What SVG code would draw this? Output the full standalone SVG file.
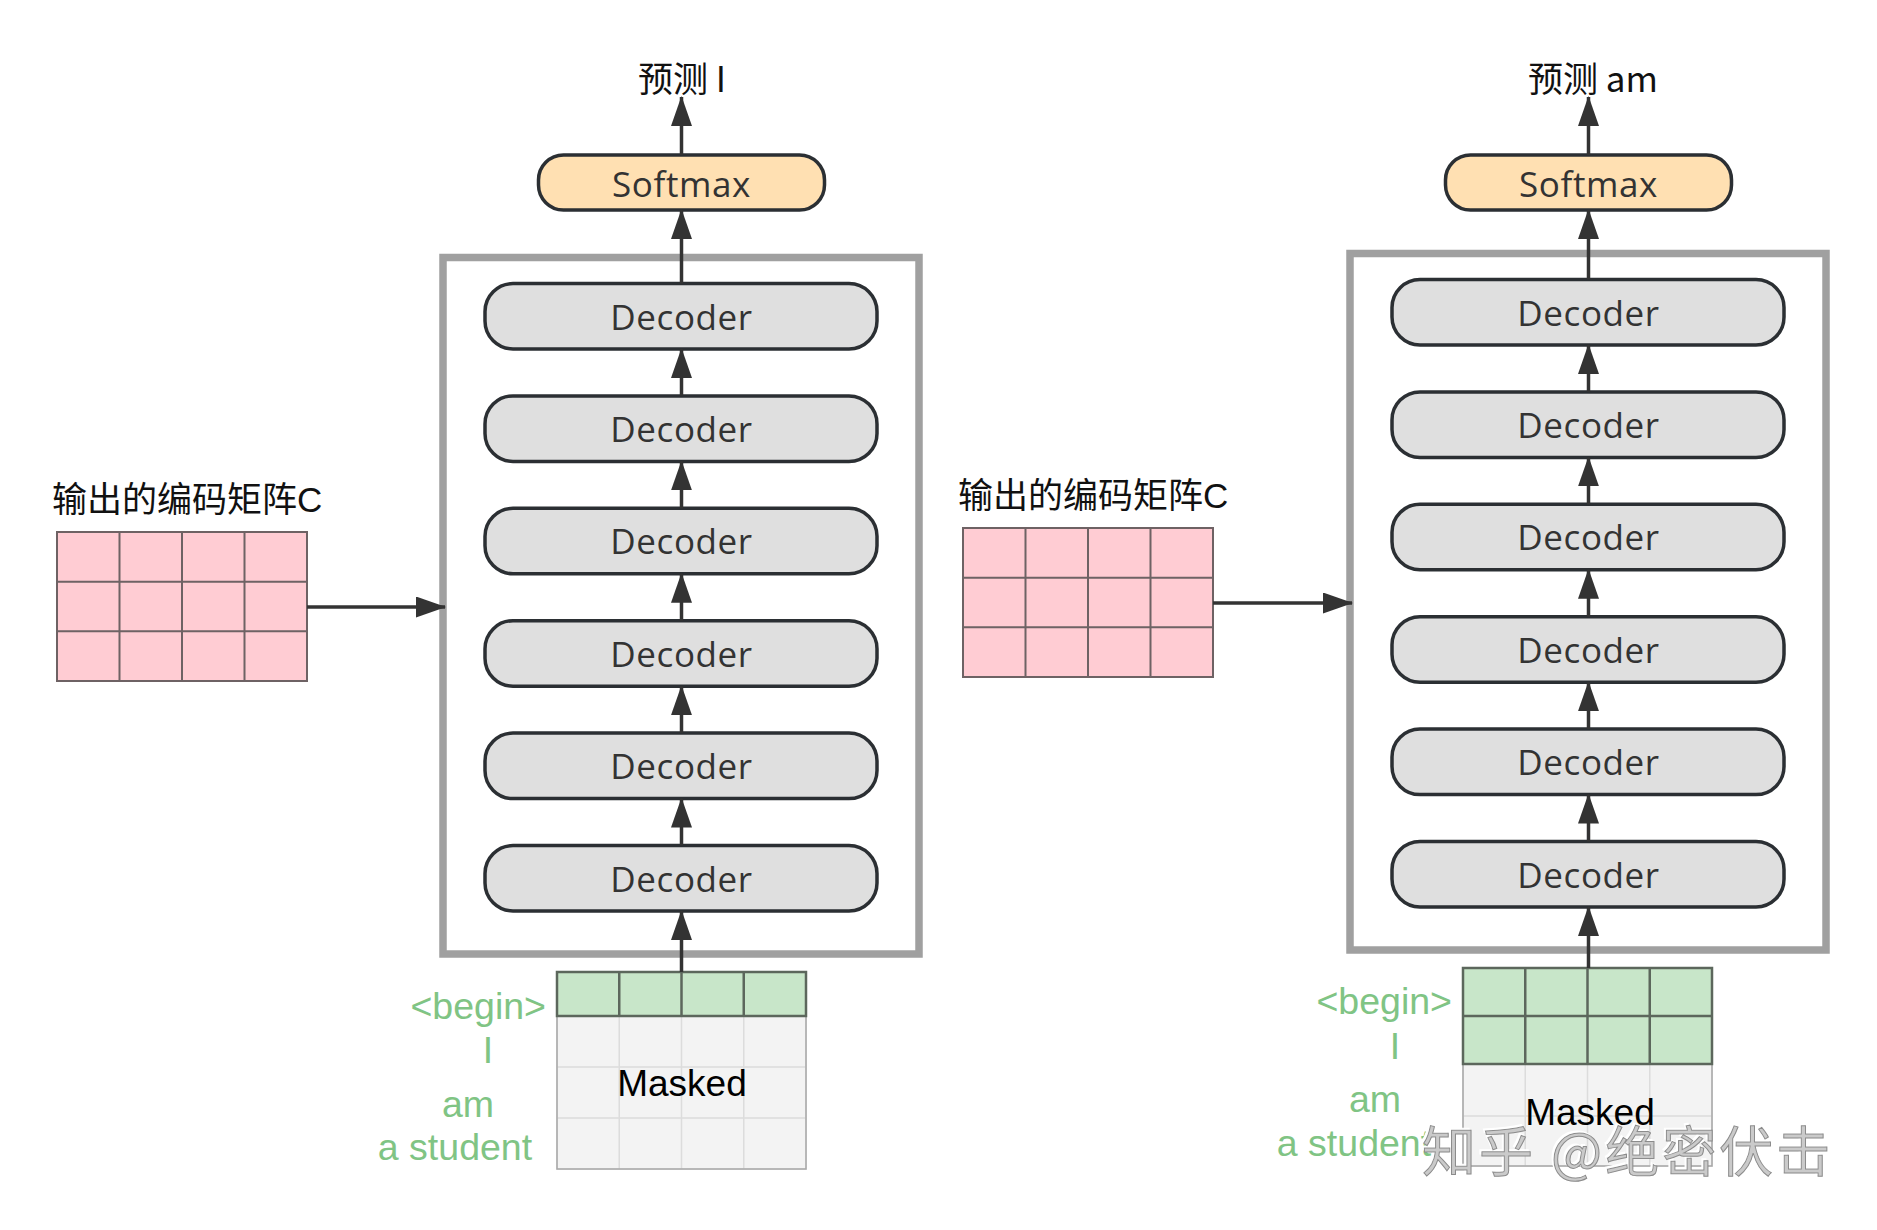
<svg xmlns="http://www.w3.org/2000/svg" width="1877" height="1230" viewBox="0 0 1877 1230">
<defs>
<style>
.frame{fill:none;stroke:#a0a0a0;stroke-width:7.5}
.dec{fill:#dfdfdf;stroke:#2b2f33;stroke-width:3.5}
.soft{fill:#ffe0b2;stroke:#2b2f33;stroke-width:3.5}
.nt{font-family:"Open Sans","Noto Sans",sans-serif;font-size:35px;fill:#333;text-anchor:middle;letter-spacing:0.6px}
.pred{font-family:"Noto Sans CJK SC","Noto Sans",sans-serif;font-size:35px;fill:#111;text-anchor:middle}
.clabel{font-family:"Liberation Sans","Noto Sans CJK SC",sans-serif;font-size:35px;fill:#111}
.pink{fill:#ffccd3;stroke:#6e6264;stroke-width:2}
.green{fill:#c8e6c9;stroke:#5c675c;stroke-width:2.5}
.gray{fill:#f3f3f3;stroke:#dcdcdc;stroke-width:1.5}
.outer{fill:none;stroke:#a8a8a8;stroke-width:1.5}
.gl{font-family:"Liberation Sans",sans-serif;font-size:37.5px;fill:#80c484}
.mk{font-family:"Liberation Sans",sans-serif;font-size:37px;fill:#000;text-anchor:middle}
.conn{stroke:#333;stroke-width:3.5;fill:none;marker-end:url(#ah)}
.wm{font-family:"Noto Sans CJK SC",sans-serif;font-size:54px;fill:#cacaca;stroke:#8c8c8c;stroke-width:1;letter-spacing:3px}
</style>
<marker id="ah" markerUnits="userSpaceOnUse" markerWidth="30" markerHeight="21" refX="29" refY="10.5" orient="auto" viewBox="0 0 30 21">
<path d="M0,0 L30,10.5 L0,21 Z" fill="#333"/>
</marker>
<filter id="wmf" x="-5%" y="-20%" width="110%" height="140%">
<feDropShadow dx="-2" dy="-2" stdDeviation="0" flood-color="#ffffff"/>
</filter>
</defs>
<rect width="1877" height="1230" fill="#ffffff"/>

<!-- LEFT -->
<g id="frame-left"><rect class="frame" x="443" y="257.5" width="476" height="696.5"/></g>
<g id="pred-left"><text class="pred" x="682" y="92">预测 I</text></g>
<g id="softmax-left"><rect class="soft" x="538.5" y="155" width="286" height="55" rx="25"/><text class="nt" x="681.5" y="197">Softmax</text></g>
<g id="dec-left-6"><rect class="dec" x="485" y="283.5" width="392" height="65.5" rx="28"/><text class="nt" x="681.5" y="329.5">Decoder</text></g>
<g id="dec-left-5"><rect class="dec" x="485" y="395.9" width="392" height="65.5" rx="28"/><text class="nt" x="681.5" y="441.9">Decoder</text></g>
<g id="dec-left-4"><rect class="dec" x="485" y="508.3" width="392" height="65.5" rx="28"/><text class="nt" x="681.5" y="554.3">Decoder</text></g>
<g id="dec-left-3"><rect class="dec" x="485" y="620.7" width="392" height="65.5" rx="28"/><text class="nt" x="681.5" y="666.7">Decoder</text></g>
<g id="dec-left-2"><rect class="dec" x="485" y="733.1" width="392" height="65.5" rx="28"/><text class="nt" x="681.5" y="779.1">Decoder</text></g>
<g id="dec-left-1"><rect class="dec" x="485" y="845.5" width="392" height="65.5" rx="28"/><text class="nt" x="681.5" y="891.5">Decoder</text></g>

<g id="matrixC-left">
<text class="clabel" x="52" y="512">输出的编码矩阵C</text>
<rect class="pink" x="57" y="532" width="250" height="149"/>
<path d="M119.5,532V681M182,532V681M244.5,532V681M57,581.7H307M57,631.3H307" stroke="#6e6264" stroke-width="2" fill="none"/>
</g>

<g id="masked-left">
<rect class="gray" x="557" y="1016" width="249" height="153"/>
<path d="M619.25,1016V1169M681.5,1016V1169M743.75,1016V1169M557,1067H806M557,1118H806" stroke="#dcdcdc" stroke-width="1.5" fill="none"/>
<rect class="outer" x="557" y="1016" width="249" height="153"/>
<rect class="green" x="557" y="972" width="249" height="44"/>
<path d="M619.25,972V1016M681.5,972V1016M743.75,972V1016" stroke="#5c675c" stroke-width="2.5" fill="none"/>
<text class="mk" x="682" y="1096">Masked</text>
<text class="gl" x="546" y="1019" text-anchor="end">&lt;begin&gt;</text>
<text class="gl" x="488" y="1063" text-anchor="middle">I</text>
<text class="gl" x="468" y="1117" text-anchor="middle">am</text>
<text class="gl" x="455" y="1160" text-anchor="middle">a student</text>
</g>

<!-- RIGHT -->
<g id="frame-right"><rect class="frame" x="1350" y="253.5" width="476" height="696.5"/></g>
<g id="pred-right"><text class="pred" x="1593" y="92">预测 am</text></g>
<g id="softmax-right"><rect class="soft" x="1445.5" y="155" width="286" height="55" rx="25"/><text class="nt" x="1588.5" y="197">Softmax</text></g>
<g id="dec-right-6"><rect class="dec" x="1392" y="279.5" width="392" height="65.5" rx="28"/><text class="nt" x="1588.5" y="325.5">Decoder</text></g>
<g id="dec-right-5"><rect class="dec" x="1392" y="391.9" width="392" height="65.5" rx="28"/><text class="nt" x="1588.5" y="437.9">Decoder</text></g>
<g id="dec-right-4"><rect class="dec" x="1392" y="504.3" width="392" height="65.5" rx="28"/><text class="nt" x="1588.5" y="550.3">Decoder</text></g>
<g id="dec-right-3"><rect class="dec" x="1392" y="616.7" width="392" height="65.5" rx="28"/><text class="nt" x="1588.5" y="662.7">Decoder</text></g>
<g id="dec-right-2"><rect class="dec" x="1392" y="729.1" width="392" height="65.5" rx="28"/><text class="nt" x="1588.5" y="775.1">Decoder</text></g>
<g id="dec-right-1"><rect class="dec" x="1392" y="841.5" width="392" height="65.5" rx="28"/><text class="nt" x="1588.5" y="887.5">Decoder</text></g>

<g id="matrixC-right">
<text class="clabel" x="958" y="508">输出的编码矩阵C</text>
<rect class="pink" x="963" y="528" width="250" height="149"/>
<path d="M1025.5,528V677M1088,528V677M1150.5,528V677M963,577.7H1213M963,627.3H1213" stroke="#6e6264" stroke-width="2" fill="none"/>
</g>

<g id="masked-right">
<rect class="gray" x="1463" y="1064" width="249" height="102"/>
<path d="M1525.25,1064V1166M1587.5,1064V1166M1649.75,1064V1166M1463,1116H1712" stroke="#dcdcdc" stroke-width="1.5" fill="none"/>
<rect class="outer" x="1463" y="1064" width="249" height="102"/>
<rect class="green" x="1463" y="968" width="249" height="96"/>
<path d="M1525.25,968V1064M1587.5,968V1064M1649.75,968V1064M1463,1016H1712" stroke="#5c675c" stroke-width="2.5" fill="none"/>
<text class="mk" x="1590" y="1125">Masked</text>
<text class="gl" x="1452" y="1014" text-anchor="end">&lt;begin&gt;</text>
<text class="gl" x="1395" y="1059" text-anchor="middle">I</text>
<text class="gl" x="1375" y="1112" text-anchor="middle">am</text>
<text class="gl" x="1354" y="1156" text-anchor="middle">a student</text>
</g>

<g id="connectors">
<line class="conn" x1="681.5" y1="155" x2="681.5" y2="97"/>
<line class="conn" x1="681.5" y1="283.5" x2="681.5" y2="210"/>
<line class="conn" x1="681.5" y1="395.9" x2="681.5" y2="349"/>
<line class="conn" x1="681.5" y1="508.3" x2="681.5" y2="461.4"/>
<line class="conn" x1="681.5" y1="620.7" x2="681.5" y2="573.8"/>
<line class="conn" x1="681.5" y1="733.1" x2="681.5" y2="686.2"/>
<line class="conn" x1="681.5" y1="845.5" x2="681.5" y2="798.6"/>
<line class="conn" x1="681.5" y1="972" x2="681.5" y2="911"/>
<line class="conn" x1="307" y1="607" x2="445" y2="607"/>
<line class="conn" x1="1588.5" y1="155" x2="1588.5" y2="97"/>
<line class="conn" x1="1588.5" y1="279.5" x2="1588.5" y2="210"/>
<line class="conn" x1="1588.5" y1="391.9" x2="1588.5" y2="345"/>
<line class="conn" x1="1588.5" y1="504.3" x2="1588.5" y2="457.4"/>
<line class="conn" x1="1588.5" y1="616.7" x2="1588.5" y2="569.8"/>
<line class="conn" x1="1588.5" y1="729.1" x2="1588.5" y2="682.2"/>
<line class="conn" x1="1588.5" y1="841.5" x2="1588.5" y2="794.6"/>
<line class="conn" x1="1588.5" y1="968" x2="1588.5" y2="907"/>
<line class="conn" x1="1213" y1="603" x2="1352" y2="603"/>
</g>

<text class="wm" x="1422" y="1172" filter="url(#wmf)">知乎 @绝密伏击</text>
</svg>
